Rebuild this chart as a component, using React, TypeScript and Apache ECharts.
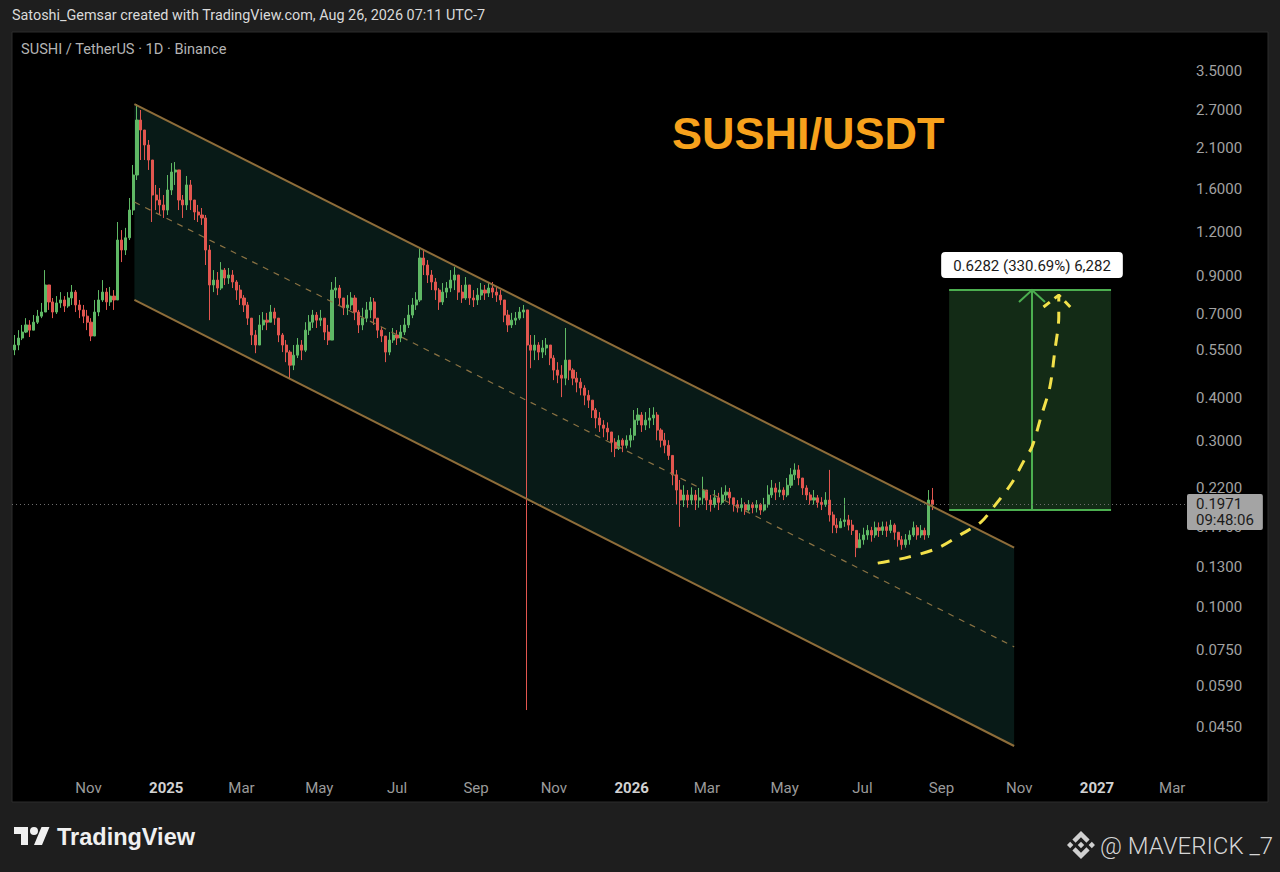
import React, { useEffect, useRef } from 'react';
import * as echarts from 'echarts';

// ---------- DATA ----------
const DAY0 = Date.UTC(2025, 0, 1);
const d = (s: string) => (Date.parse(s + 'T00:00:00Z') - DAY0) / 86400000;

const candleStart = '2024-09-04';
const candleStepDays = 3;
const firstOpen = 0.55;

const closes = [
  0.568, 0.595, 0.619, 0.649, 0.627, 0.661, 0.688, 0.707, 0.846, 0.756,
  0.707, 0.751, 0.766, 0.736, 0.776, 0.807, 0.741, 0.717, 0.688, 0.661,
  0.603, 0.707, 0.766, 0.807, 0.756, 0.786, 0.766, 1.14, 1.067, 1.157,
  1.391, 1.755, 2.528, 2.366, 2.142, 1.939, 1.537, 1.487, 1.439, 1.391,
  1.589, 1.79, 1.815, 1.487, 1.439, 1.643, 1.487, 1.373, 1.346, 1.32,
  1.067, 0.846, 0.874, 0.829, 0.934, 0.886, 0.904, 0.863, 0.818, 0.776,
  0.741, 0.679, 0.607, 0.568, 0.649, 0.67, 0.661, 0.707, 0.679, 0.607,
  0.568, 0.542, 0.497, 0.531, 0.568, 0.549, 0.627, 0.661, 0.693, 0.67,
  0.679, 0.619, 0.587, 0.818, 0.829, 0.776, 0.727, 0.741, 0.776, 0.707,
  0.649, 0.679, 0.717, 0.756, 0.679, 0.627, 0.603, 0.542, 0.587, 0.607,
  0.595, 0.619, 0.649, 0.693, 0.741, 0.766, 1.012, 0.966, 0.904, 0.863,
  0.818, 0.756, 0.807, 0.829, 0.874, 0.904, 0.807, 0.776, 0.846, 0.776,
  0.766, 0.791, 0.818, 0.802, 0.829, 0.807, 0.791, 0.766, 0.693, 0.649,
  0.67, 0.679, 0.707, 0.717, 0.568, 0.549, 0.568, 0.542, 0.557, 0.568,
  0.521, 0.481, 0.465, 0.456, 0.514, 0.481, 0.456, 0.444, 0.427, 0.407,
  0.394, 0.369, 0.35, 0.334, 0.327, 0.319, 0.298, 0.286, 0.302, 0.292,
  0.302, 0.312, 0.345, 0.357, 0.334, 0.345, 0.35, 0.357, 0.323, 0.302,
  0.292, 0.273, 0.24, 0.217, 0.203, 0.21, 0.203, 0.21, 0.203, 0.206,
  0.217, 0.203, 0.197, 0.206, 0.2, 0.21, 0.214, 0.206, 0.197, 0.193,
  0.197, 0.19, 0.197, 0.193, 0.197, 0.19, 0.197, 0.21, 0.22, 0.214,
  0.217, 0.21, 0.224, 0.24, 0.248, 0.235, 0.22, 0.21, 0.203, 0.206,
  0.2, 0.197, 0.203, 0.184, 0.172, 0.169, 0.176, 0.178, 0.172, 0.166,
  0.148, 0.156, 0.161, 0.166, 0.161, 0.169, 0.166, 0.17, 0.166, 0.172,
  0.164, 0.156, 0.151, 0.156, 0.161, 0.169, 0.161, 0.166, 0.161, 0.203,
  0.1971,
];

const highs = [
  0.607, 0.627, 0.649, 0.679, 0.67, 0.693, 0.717, 0.751, 0.934, 0.846,
  0.776, 0.786, 0.807, 0.786, 0.807, 0.846, 0.818, 0.766, 0.741, 0.717,
  0.679, 0.766, 0.818, 0.874, 0.829, 0.835, 0.818, 1.285, 1.218, 1.236,
  1.507, 1.876, 2.81, 2.702, 2.366, 2.214, 1.815, 1.643, 1.61, 1.537,
  1.755, 1.9, 1.913, 1.755, 1.537, 1.744, 1.698, 1.487, 1.439, 1.41,
  1.346, 1.103, 0.934, 0.922, 0.985, 0.947, 0.947, 0.934, 0.874, 0.846,
  0.791, 0.756, 0.67, 0.627, 0.693, 0.707, 0.703, 0.741, 0.727, 0.67,
  0.615, 0.587, 0.549, 0.568, 0.595, 0.587, 0.661, 0.693, 0.717, 0.707,
  0.717, 0.679, 0.649, 0.863, 0.892, 0.846, 0.776, 0.791, 0.807, 0.791,
  0.717, 0.727, 0.756, 0.781, 0.776, 0.67, 0.64, 0.595, 0.619, 0.636,
  0.627, 0.649, 0.679, 0.741, 0.776, 0.807, 1.088, 1.067, 0.998, 0.934,
  0.886, 0.829, 0.857, 0.863, 0.934, 0.953, 0.904, 0.846, 0.892, 0.829,
  0.818, 0.829, 0.857, 0.846, 0.857, 0.863, 0.835, 0.818, 0.766, 0.717,
  0.703, 0.707, 0.731, 0.741, 0.707, 0.607, 0.607, 0.579, 0.587, 0.595,
  0.568, 0.531, 0.507, 0.497, 0.636, 0.514, 0.487, 0.475, 0.456, 0.435,
  0.421, 0.394, 0.374, 0.364, 0.345, 0.34, 0.319, 0.306, 0.312, 0.306,
  0.312, 0.327, 0.369, 0.374, 0.364, 0.364, 0.374, 0.376, 0.364, 0.327,
  0.317, 0.302, 0.273, 0.248, 0.232, 0.224, 0.217, 0.221, 0.217, 0.22,
  0.237, 0.217, 0.21, 0.217, 0.213, 0.221, 0.224, 0.22, 0.206, 0.203,
  0.206, 0.2, 0.203, 0.2, 0.203, 0.199, 0.206, 0.224, 0.232, 0.227,
  0.229, 0.221, 0.235, 0.251, 0.259, 0.256, 0.235, 0.224, 0.214, 0.217,
  0.21, 0.207, 0.214, 0.248, 0.188, 0.18, 0.18, 0.206, 0.184, 0.178,
  0.166, 0.163, 0.169, 0.172, 0.17, 0.176, 0.175, 0.176, 0.176, 0.178,
  0.174, 0.164, 0.16, 0.162, 0.166, 0.176, 0.172, 0.172, 0.169, 0.217,
  0.22,
];

const lows = [
  0.531, 0.549, 0.587, 0.615, 0.599, 0.627, 0.653, 0.679, 0.707, 0.717,
  0.679, 0.698, 0.727, 0.707, 0.727, 0.741, 0.707, 0.679, 0.657, 0.627,
  0.583, 0.607, 0.688, 0.756, 0.717, 0.736, 0.717, 0.766, 0.985, 1.032,
  1.14, 1.346, 1.698, 1.939, 1.939, 1.815, 1.285, 1.391, 1.346, 1.32,
  1.346, 1.537, 1.643, 1.391, 1.32, 1.391, 1.391, 1.302, 1.285, 1.26,
  0.966, 0.67, 0.807, 0.791, 0.818, 0.846, 0.852, 0.829, 0.766, 0.741,
  0.707, 0.649, 0.568, 0.538, 0.568, 0.627, 0.627, 0.661, 0.649, 0.579,
  0.542, 0.507, 0.456, 0.481, 0.521, 0.514, 0.542, 0.607, 0.636, 0.636,
  0.644, 0.587, 0.568, 0.587, 0.776, 0.741, 0.693, 0.693, 0.717, 0.67,
  0.615, 0.627, 0.661, 0.679, 0.649, 0.595, 0.579, 0.507, 0.531, 0.576,
  0.568, 0.579, 0.607, 0.636, 0.679, 0.717, 0.756, 0.904, 0.857, 0.818,
  0.766, 0.717, 0.741, 0.776, 0.807, 0.818, 0.766, 0.751, 0.766, 0.741,
  0.731, 0.741, 0.766, 0.766, 0.781, 0.776, 0.756, 0.741, 0.661, 0.619,
  0.636, 0.649, 0.67, 0.679, 0.0504, 0.487, 0.514, 0.514, 0.521, 0.531,
  0.497, 0.45, 0.441, 0.402, 0.435, 0.45, 0.435, 0.415, 0.407, 0.381,
  0.374, 0.35, 0.327, 0.319, 0.308, 0.302, 0.279, 0.27, 0.283, 0.279,
  0.286, 0.288, 0.302, 0.334, 0.319, 0.323, 0.327, 0.334, 0.302, 0.288,
  0.277, 0.265, 0.224, 0.197, 0.17, 0.194, 0.193, 0.197, 0.19, 0.193,
  0.197, 0.19, 0.188, 0.193, 0.19, 0.197, 0.203, 0.197, 0.188, 0.187,
  0.188, 0.184, 0.188, 0.186, 0.187, 0.184, 0.188, 0.193, 0.206, 0.203,
  0.207, 0.203, 0.207, 0.22, 0.232, 0.224, 0.21, 0.203, 0.197, 0.197,
  0.193, 0.19, 0.194, 0.176, 0.163, 0.163, 0.169, 0.17, 0.166, 0.161,
  0.139, 0.148, 0.151, 0.156, 0.154, 0.158, 0.159, 0.161, 0.159, 0.163,
  0.156, 0.149, 0.146, 0.148, 0.151, 0.159, 0.156, 0.158, 0.156, 0.158,
  0.19,
];

const xTickDates = [
  '2024-11-01', '2025-01-01', '2025-03-01', '2025-05-01', '2025-07-01', '2025-09-01', '2025-11-01',
  '2026-01-01', '2026-03-01', '2026-05-01', '2026-07-01', '2026-09-01', '2026-11-01', '2027-01-01', '2027-03-01',
];
const xTickLabels = ['Nov', '2025', 'Mar', 'May', 'Jul', 'Sep', 'Nov', '2026', 'Mar', 'May', 'Jul', 'Sep', 'Nov', '2027', 'Mar'];
const yTicks = [3.5, 2.7, 2.1, 1.6, 1.2, 0.9, 0.7, 0.55, 0.4, 0.3, 0.22, 0.17, 0.13, 0.1, 0.075, 0.059, 0.045];

const xRange = ['2024-09-02', '2027-03-11'];
const yRange = [0.03363, 4.534];

const lastPrice = 0.1971;
const countdown = '09:48:06';

const channelDates = ['2024-12-07', '2026-10-28'];
const channelUpper = [2.81, 0.148];
const channelLower = [0.766, 0.0397];

const boxDates = ['2026-09-07', '2027-01-12'];
const boxArrowDate = '2026-11-11';
const boxPrices = [0.19, 0.8182];
const boxLabel = '0.6282 (330.69%) 6,282';

const curveDates = [
  '2026-07-13', '2026-08-06', '2026-08-29', '2026-09-18', '2026-10-02', '2026-10-12', '2026-10-26',
  '2026-11-05', '2026-11-11', '2026-11-18', '2026-11-25', '2026-11-29', '2026-12-02', '2026-12-02',
];
const curvePrices = [0.1336, 0.139, 0.1476, 0.163, 0.1755, 0.194, 0.227, 0.265, 0.289, 0.352, 0.43, 0.55, 0.684, 0.781];
const arrowDates = ['2026-11-20', '2026-12-02', '2026-12-11'];
const arrowPrices = [0.731, 0.791, 0.731];

// ---------- SHAPES ----------
const TV_PATH = 'M14 22H7V11H0V4h14v18zM28 22h-8l7.5-18h8L28 22zM16 8a4 4 0 1 0 8 0a4 4 0 1 0 -8 0z';
const BNB_PATH =
  'M38.73 53.2L63.32 28.62L87.93 53.22L102.23 38.91L63.32 0L24.43 38.9Z' +
  'M0 63.31L14.3 49L28.61 63.31L14.3 77.61Z' +
  'M38.73 73.41L63.32 98L87.93 73.4L102.24 87.69L63.32 126.6L24.41 87.72Z' +
  'M97.99 63.31L112.29 49L126.6 63.31L112.29 77.61Z' +
  'M77.83 63.3L63.32 48.78L48.79 63.31L63.32 77.83Z';

let shapesRegistered = false;
function registerShapes() {
  if (shapesRegistered) return;
  echarts.graphic.registerShape('tvLogo', echarts.graphic.extendPath(TV_PATH, {}));
  echarts.graphic.registerShape('bnbLogo', echarts.graphic.extendPath(BNB_PATH, {}));
  shapesRegistered = true;
}

const FONT = 'Roboto, "Noto Sans", "DejaVu Sans", sans-serif';
const ln = Math.log;

function buildOption() {
  const start = d(candleStart);
  const candleData = closes.map((c, i) => {
    const o = i === 0 ? firstOpen : closes[i - 1];
    return [start + i * candleStepDays, ln(o), ln(c), ln(lows[i]), ln(highs[i])];
  });
  const xTickDays = xTickDates.map(d);
  const cd = channelDates.map(d);

  return {
    animation: false,
    backgroundColor: '#1e1e1e',
    grid: { left: 12, top: 32, right: 95, bottom: 101, containLabel: false },
    xAxis: {
      type: 'value',
      min: d(xRange[0]),
      max: d(xRange[1]),
      axisLine: { show: false },
      axisTick: { show: false },
      splitLine: { show: false },
      axisLabel: {
        customValues: xTickDays,
        margin: 9,
        fontFamily: FONT,
        fontSize: 15,
        color: '#9b9b9b',
        formatter: (v: number) => {
          const idx = xTickDays.findIndex((t) => Math.abs(t - v) < 0.5);
          const s = idx >= 0 ? xTickLabels[idx] : '';
          return /^\d{4}$/.test(s) ? `{y|${s}}` : `{m|${s}}`;
        },
        rich: {
          y: { fontFamily: FONT, fontSize: 15, fontWeight: 'bold', color: '#d2d2d2' },
          m: { fontFamily: FONT, fontSize: 15, color: '#9b9b9b' },
        },
      },
    },
    yAxis: {
      type: 'value',
      position: 'right',
      min: ln(yRange[0]),
      max: ln(yRange[1]),
      axisLine: { show: false },
      axisTick: { show: false },
      splitLine: { show: false },
      axisLabel: {
        customValues: yTicks.map(ln),
        margin: 11,
        align: 'left',
        fontFamily: FONT,
        fontSize: 15,
        color: '#a2a2a2',
        formatter: (v: number) => Math.exp(v).toFixed(4),
      },
    },
    graphic: {
      elements: [
        { type: 'rect', z: -10, silent: true, shape: { x: 12, y: 32, width: 1256, height: 770 }, style: { fill: '#000000', stroke: '#2c2c2c', lineWidth: 1 } },
        { type: 'text', x: 12, y: 15, silent: true, style: { text: 'Satoshi_Gemsar created with TradingView.com, Aug 26, 2026 07:11 UTC-7', fill: '#dadada', font: `14.4px ${FONT}`, verticalAlign: 'middle' } },
        { type: 'text', x: 21, y: 49, silent: true, style: { text: 'SUSHI / TetherUS · 1D · Binance', fill: '#b4b4b4', font: `14.6px ${FONT}`, verticalAlign: 'middle' } },
        { type: 'text', x: 672, y: 133, silent: true, style: { text: 'SUSHI/USDT', fill: '#f7a11c', font: `bold 45px "Liberation Sans", Arial, sans-serif`, verticalAlign: 'middle' } },
        { type: 'tvLogo', x: 14, y: 823, silent: true, style: { fill: '#f0f0f0' } },
        { type: 'text', x: 57, y: 837, silent: true, style: { text: 'TradingView', fill: '#f0f0f0', font: `bold 23.5px "Liberation Sans", Arial, sans-serif`, verticalAlign: 'middle' } },
        { type: 'bnbLogo', x: 1067, y: 831, scaleX: 0.221, scaleY: 0.221, silent: true, style: { fill: '#d0d0d0' } },
        { type: 'text', x: 1100, y: 846, silent: true, style: { text: '@ MAVERICK _7', fill: '#d6d6d6', font: `300 24px ${FONT}`, verticalAlign: 'middle' } },
      ],
    },
    series: [
      {
        type: 'custom',
        z: 1,
        silent: true,
        clip: false,
        data: [[cd[0], ln(channelUpper[0])]],
        renderItem: (_p: any, api: any) => {
          const a = api.coord([cd[0], ln(channelUpper[0])]);
          const b = api.coord([cd[1], ln(channelUpper[1])]);
          const c = api.coord([cd[1], ln(channelLower[1])]);
          const e = api.coord([cd[0], ln(channelLower[0])]);
          return { type: 'polygon', shape: { points: [a, b, c, e] }, style: { fill: '#081a17' } };
        },
      },
      {
        type: 'custom',
        z: 2,
        silent: true,
        clip: false,
        data: [[d(boxDates[0]), ln(boxPrices[1])]],
        renderItem: (_p: any, api: any) => {
          const tl = api.coord([d(boxDates[0]), ln(boxPrices[1])]);
          const br = api.coord([d(boxDates[1]), ln(boxPrices[0])]);
          const ax = api.coord([d(boxArrowDate), ln(boxPrices[1])])[0];
          const left = tl[0], top = tl[1], right = br[0], bottom = br[1];
          const stroke = { stroke: '#4caf50', lineWidth: 2 };
          return {
            type: 'group',
            children: [
              { type: 'rect', shape: { x: left, y: top, width: right - left, height: bottom - top }, style: { fill: '#132b16' } },
              { type: 'line', shape: { x1: left, y1: top, x2: right, y2: top }, style: stroke },
              { type: 'line', shape: { x1: left, y1: bottom, x2: right, y2: bottom }, style: stroke },
              { type: 'line', shape: { x1: ax, y1: bottom, x2: ax, y2: top }, style: stroke },
              { type: 'polyline', shape: { points: [[ax - 13, top + 12], [ax, top], [ax + 13, top + 12]] }, style: { ...stroke, fill: 'none' } },
              {
                type: 'text',
                x: ax,
                y: top - 12,
                style: {
                  text: boxLabel,
                  align: 'center',
                  verticalAlign: 'bottom',
                  fill: '#1a1a1a',
                  font: `15px ${FONT}`,
                  backgroundColor: '#ffffff',
                  padding: [6, 12, 5, 12],
                  borderRadius: 4,
                },
              },
            ],
          };
        },
      },
      {
        type: 'candlestick',
        z: 3,
        barWidth: 2.6,
        silent: true,
        data: candleData,
        itemStyle: { color: '#5fb865', color0: '#e2564f', borderColor: '#5fb865', borderColor0: '#e2564f', borderWidth: 1 },
        markLine: {
          silent: true,
          symbol: ['none', 'none'],
          lineStyle: { color: '#6e6e6e', type: [1, 3], width: 1 },
          label: {
            show: true,
            position: 'end',
            distance: 2,
            offset: [0, 8],
            formatter: `${lastPrice.toFixed(4)}\n${countdown}`,
            backgroundColor: '#a4a4a4',
            color: '#1b1b1b',
            fontFamily: FONT,
            fontSize: 15,
            lineHeight: 16,
            padding: [2, 9, 2, 9],
            borderRadius: 2,
          },
          data: [{ yAxis: ln(lastPrice) }],
        },
      },
      {
        type: 'line',
        z: 4,
        silent: true,
        symbol: 'none',
        data: cd.map((x, i) => [x, ln(channelUpper[i])]),
        lineStyle: { color: '#8e6d3a', width: 2 },
      },
      {
        type: 'line',
        z: 4,
        silent: true,
        symbol: 'none',
        data: cd.map((x, i) => [x, ln(channelLower[i])]),
        lineStyle: { color: '#8e6d3a', width: 2 },
      },
      {
        type: 'line',
        z: 4,
        silent: true,
        symbol: 'none',
        data: cd.map((x, i) => [x, (ln(channelUpper[i]) + ln(channelLower[i])) / 2]),
        lineStyle: { color: '#8a7243', width: 1.2, type: [6, 6] },
      },
      {
        type: 'line',
        z: 5,
        silent: true,
        symbol: 'none',
        smooth: 0.3,
        data: curveDates.map((s, i) => [d(s), ln(curvePrices[i])]),
        lineStyle: { color: '#f2e14a', width: 3, type: [12, 10] },
      },
      {
        type: 'line',
        z: 5,
        silent: true,
        symbol: 'none',
        data: arrowDates.map((s, i) => [d(s), ln(arrowPrices[i])]),
        lineStyle: { color: '#f2e14a', width: 3, type: [8, 6] },
      },
    ],
  };
}

export default function App() {
  const ref = useRef<HTMLDivElement>(null);
  useEffect(() => {
    if (!ref.current) return;
    registerShapes();
    const chart = echarts.init(ref.current, undefined, { renderer: 'svg' });
    chart.setOption(buildOption() as any);
    return () => chart.dispose();
  }, []);
  return (
    <div style={{ position: 'fixed', left: 0, top: 0, width: 1280, height: 872, background: '#1e1e1e' }}>
      <div ref={ref} style={{ width: 1280, height: 872 }} />
    </div>
  );
}
